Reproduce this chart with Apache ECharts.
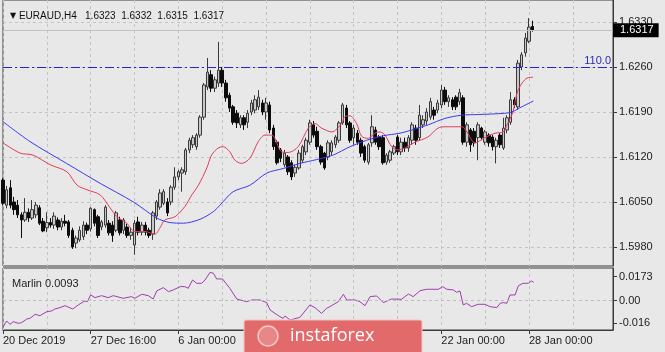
<!DOCTYPE html>
<html>
<head>
  <meta charset="UTF-8">
  <title>EURAUD,H4</title>
  <script src="https://cdn.jsdelivr.net/npm/echarts@6/dist/echarts.min.js"></script>
  <style>
    html, body { margin:0; padding:0; background:#e8e8e8; }
    #chart { width:665px; height:352px; }
  </style>
</head>
<body>
<div id="chart"></div>
<script type="text/javascript">
  // H4 candles, one per slot (slots past the last candle are the empty shift on the right)
  var slotCount = 168;
  var opens = [1.6084,1.6045,1.6072,1.6050,1.6045,1.6030,1.6022,1.6034,1.6025,1.6030,
    1.6041,1.6020,1.6010,1.6018,1.6014,1.6022,1.6011,1.6020,1.6019,1.6006,
    1.5986,1.5991,1.5996,1.6014,1.6008,1.6038,1.6027,1.6011,1.6014,1.6017,
    1.6014,1.6006,1.6022,1.6006,1.6011,1.5998,1.5983,1.6019,1.6003,1.6014,
    1.6006,1.6000,1.6028,1.6042,1.6048,1.6050,1.6050,1.6073,1.6089,1.6095,
    1.6097,1.6131,1.6139,1.6136,1.6154,1.6182,1.6229,1.6248,1.6227,1.6235,
    1.6255,1.6235,1.6216,1.6198,1.6188,1.6170,1.6181,1.6174,1.6190,1.6193,
    1.6198,1.6204,1.6190,1.6201,1.6165,1.6143,1.6131,1.6108,1.6120,1.6111,
    1.6095,1.6103,1.6115,1.6128,1.6143,1.6170,1.6160,1.6136,1.6126,1.6120,
    1.6128,1.6139,1.6146,1.6173,1.6196,1.6173,1.6150,1.6157,1.6146,1.6136,
    1.6112,1.6142,1.6162,1.6151,1.6150,1.6112,1.6115,1.6126,1.6151,1.6128,
    1.6143,1.6134,1.6146,1.6165,1.6150,1.6170,1.6176,1.6182,1.6193,1.6193,
    1.6201,1.6224,1.6206,1.6209,1.6213,1.6206,1.6212,1.6143,1.6162,1.6160,
    1.6150,1.6165,1.6143,1.6154,1.6151,1.6136,1.6154,1.6134,1.6162,1.6174,
    1.6209,1.6198,1.6260,1.6282,1.6300,1.6323];
  var closes = [1.6048,1.6069,1.6045,1.6038,1.6030,1.6022,1.6034,1.6025,1.6038,1.6045,
    1.6017,1.6005,1.6018,1.6014,1.6028,1.6011,1.6020,1.6017,1.5998,1.5980,
    1.5994,1.6006,1.6014,1.6006,1.6040,1.6017,1.5998,1.6019,1.6042,1.6002,
    1.5998,1.6033,1.6002,1.6022,1.5998,1.6003,1.6017,1.6003,1.6014,1.6003,
    1.5998,1.6033,1.6050,1.6064,1.6066,1.6033,1.6073,1.6089,1.6097,1.6100,
    1.6131,1.6146,1.6150,1.6154,1.6182,1.6232,1.6252,1.6227,1.6240,1.6255,
    1.6235,1.6212,1.6196,1.6174,1.6173,1.6181,1.6170,1.6188,1.6204,1.6209,
    1.6213,1.6190,1.6204,1.6162,1.6136,1.6111,1.6118,1.6126,1.6097,1.6089,
    1.6104,1.6126,1.6136,1.6146,1.6173,1.6154,1.6136,1.6112,1.6103,1.6142,
    1.6142,1.6151,1.6173,1.6201,1.6170,1.6146,1.6165,1.6143,1.6126,1.6115,
    1.6139,1.6167,1.6143,1.6136,1.6111,1.6123,1.6128,1.6136,1.6128,1.6143,
    1.6134,1.6150,1.6170,1.6146,1.6185,1.6178,1.6190,1.6206,1.6185,1.6204,
    1.6224,1.6206,1.6212,1.6198,1.6198,1.6220,1.6143,1.6170,1.6139,1.6142,
    1.6170,1.6150,1.6159,1.6142,1.6136,1.6146,1.6139,1.6165,1.6181,1.6209,
    1.6201,1.6266,1.6279,1.6305,1.6322,1.6317];
  var lows = [1.6045,1.6040,1.6040,1.6030,1.6025,1.5994,1.6019,1.6019,1.6022,1.6025,
    1.6014,1.6003,1.6003,1.6010,1.6008,1.6006,1.6006,1.6012,1.5994,1.5977,
    1.5978,1.5988,1.5991,1.6000,1.6004,1.6012,1.5994,1.6006,1.6010,1.5998,
    1.5988,1.6003,1.5998,1.6000,1.5994,1.5991,1.5968,1.5998,1.5998,1.5998,
    1.5994,1.5991,1.6022,1.6038,1.6045,1.6028,1.6045,1.6069,1.6084,1.6066,
    1.6092,1.6126,1.6134,1.6131,1.6150,1.6178,1.6224,1.6221,1.6221,1.6229,
    1.6229,1.6206,1.6190,1.6170,1.6165,1.6165,1.6162,1.6165,1.6185,1.6188,
    1.6193,1.6185,1.6178,1.6157,1.6131,1.6108,1.6112,1.6104,1.6092,1.6084,
    1.6089,1.6100,1.6111,1.6123,1.6139,1.6150,1.6131,1.6108,1.6100,1.6115,
    1.6123,1.6134,1.6142,1.6170,1.6165,1.6142,1.6139,1.6139,1.6120,1.6111,
    1.6108,1.6136,1.6139,1.6131,1.6108,1.6108,1.6111,1.6123,1.6123,1.6123,
    1.6128,1.6128,1.6139,1.6139,1.6146,1.6165,1.6170,1.6178,1.6178,1.6188,
    1.6196,1.6201,1.6198,1.6193,1.6193,1.6201,1.6139,1.6136,1.6128,1.6136,
    1.6115,1.6146,1.6139,1.6136,1.6130,1.6110,1.6134,1.6131,1.6157,1.6170,
    1.6196,1.6193,1.6255,1.6276,1.6297,1.6315];
  var highs = [1.6087,1.6075,1.6084,1.6058,1.6053,1.6034,1.6056,1.6040,1.6053,1.6050,
    1.6045,1.6025,1.6034,1.6025,1.6034,1.6026,1.6025,1.6030,1.6022,1.6010,
    1.5998,1.6012,1.6020,1.6018,1.6042,1.6040,1.6030,1.6022,1.6045,1.6022,
    1.6020,1.6036,1.6027,1.6025,1.6016,1.6010,1.6022,1.6027,1.6019,1.6019,
    1.6010,1.6036,1.6053,1.6070,1.6070,1.6056,1.6076,1.6104,1.6100,1.6104,
    1.6134,1.6150,1.6154,1.6157,1.6185,1.6235,1.6274,1.6255,1.6245,1.6299,
    1.6260,1.6240,1.6220,1.6201,1.6193,1.6185,1.6185,1.6193,1.6209,1.6216,
    1.6224,1.6209,1.6212,1.6206,1.6170,1.6146,1.6134,1.6131,1.6123,1.6115,
    1.6108,1.6131,1.6139,1.6150,1.6178,1.6176,1.6167,1.6139,1.6128,1.6146,
    1.6146,1.6154,1.6176,1.6204,1.6201,1.6176,1.6170,1.6162,1.6150,1.6139,
    1.6142,1.6185,1.6167,1.6154,1.6154,1.6126,1.6131,1.6139,1.6154,1.6150,
    1.6150,1.6154,1.6174,1.6170,1.6201,1.6185,1.6196,1.6212,1.6198,1.6209,
    1.6232,1.6229,1.6216,1.6213,1.6216,1.6226,1.6216,1.6174,1.6165,1.6165,
    1.6174,1.6167,1.6162,1.6157,1.6154,1.6150,1.6157,1.6181,1.6185,1.6221,
    1.6213,1.6271,1.6283,1.6313,1.6336,1.6332];

  // moving averages and Marlin, as [slot, value]
  var redMA = [[0,1.6142],[4.7,1.6126],[8.2,1.6123],[12.9,1.6108],[17.5,1.6097],[20.3,1.6076],[23.0,1.6069],
    [26.6,1.6061],[29.3,1.6041],[31.2,1.6027],[33.9,1.6017],[36.1,1.6004],[38.9,1.6004],[41.6,1.6000],
    [43.0,1.6010],[44.3,1.6022],[47.1,1.6027],[49.8,1.6043],[51.7,1.6061],[53.5,1.6076],[55.8,1.6103],
    [57.1,1.6123],[58.9,1.6134],[60.3,1.6136],[62.1,1.6128],[63.5,1.6115],[65.3,1.6110],[67.6,1.6118],
    [69.9,1.6144],[71.7,1.6154],[73.6,1.6154],[76.3,1.6128],[78.1,1.6127],[80.8,1.6136],[83.6,1.6165],
    [85.4,1.6172],[87.2,1.6165],[90.0,1.6159],[92.7,1.6172],[93.6,1.6183],[95.0,1.6184],[96.8,1.6172],
    [98.2,1.6152],[100.0,1.6149],[101.8,1.6157],[103.2,1.6159],[104.6,1.6154],[106.4,1.6136],[108.2,1.6131],
    [110.0,1.6134],[112.8,1.6143],[116.3,1.6151],[119.1,1.6165],[121.0,1.6167],[125.7,1.6167],[127.0,1.6159],
    [129.2,1.6142],[131.9,1.6150],[134.7,1.6157],[136.9,1.6159],[138.0,1.6170],[139.6,1.6190],[141.0,1.6224],
    [143.5,1.6243],[145.1,1.6244]];
  var blueMA = [[0,1.6175],[7.4,1.6144],[17.4,1.6110],[26.6,1.6079],[35.7,1.6050],[42.1,1.6025],[45.7,1.6018],
    [49.4,1.6017],[53.9,1.6023],[57.6,1.6035],[59.4,1.6045],[63.0,1.6066],[67.6,1.6076],[72.2,1.6095],
    [76.7,1.6102],[81.3,1.6110],[85.9,1.6116],[90.4,1.6123],[95.0,1.6136],[99.6,1.6146],[104.1,1.6153],
    [108.7,1.6157],[111.9,1.6162],[116.4,1.6170],[121.0,1.6180],[125.6,1.6185],[130.1,1.6186],[137.4,1.6188],
    [139.3,1.6190],[142.0,1.6198],[145.2,1.6207]];
  var marlin = [[0.1,-0.0187],[1.0,-0.0146],[1.9,-0.0170],[2.8,-0.0151],[4.2,-0.0163],[5.1,-0.0158],[6.5,-0.0132],
    [7.4,-0.0127],[8.8,-0.0098],[10.1,-0.0108],[12.0,-0.0079],[13.3,-0.0074],[14.2,-0.0060],[15.6,-0.0050],
    [17.0,-0.0036],[19.1,-0.0060],[20.6,-0.0031],[22.4,-0.0002],[23.1,-0.0007],[24.0,0.0041],[25.2,0.0022],
    [27.0,0.0036],[28.8,0.0022],[30.2,0.0036],[32.9,0.0017],[35.2,0.0029],[36.1,0.0017],[38.0,0.0046],
    [39.8,0.0036],[41.1,0.0012],[42.1,0.0070],[43.9,0.0094],[45.3,0.0065],[46.6,0.0077],[48.5,0.0101],
    [49.8,0.0101],[50.7,0.0089],[51.9,0.0149],[53.0,0.0125],[54.4,0.0125],[55.3,0.0149],[56.7,0.0204],
    [57.6,0.0197],[58.5,0.0156],[60.1,0.0156],[62.1,0.0089],[64.0,0.0012],[66.7,-0.0007],[68.1,0.0005],
    [70.4,0.0005],[72.2,-0.0014],[73.1,-0.0067],[75.8,-0.0115],[76.7,-0.0127],[77.2,-0.0110],[78.6,-0.0139],
    [81.3,-0.0120],[84.0,-0.0031],[85.4,-0.0050],[87.2,-0.0091],[88.6,-0.0055],[89.5,-0.0043],[91.8,-0.0007],
    [93.2,0.0046],[94.1,0.0005],[96.4,0.0005],[97.7,-0.0007],[99.1,-0.0036],[100.5,0.0029],[102.3,0.0034],
    [104.1,-0.0014],[106.4,0.0012],[109.1,0.0010],[111.0,0.0048],[112.3,0.0029],[114.2,0.0072],[116.0,0.0082],
    [119.2,0.0082],[120.4,0.0101],[121.5,0.0082],[123.3,0.0077],[124.2,0.0060],[125.1,0.0070],[126.0,-0.0031],
    [126.9,-0.0019],[128.3,-0.0043],[130.1,-0.0026],[132.0,-0.0026],[133.3,-0.0043],[135.2,-0.0050],
    [136.1,-0.0019],[137.0,-0.0014],[137.9,-0.0019],[138.8,0.0041],[140.2,0.0041],[141.1,0.0108],
    [142.4,0.0125],[143.8,0.0125],[144.7,0.0142],[145.3,0.0132]];

  var timeLabels = ['20 Dec 2019','27 Dec 16:00','6 Jan 00:00','10 Jan 00:00','16 Jan 00:00','22 Jan 00:00','28 Jan 00:00'];
  var priceTicks = [1.5980, 1.6050, 1.6120, 1.6190, 1.6260, 1.6330];
  var marlinTicks = [0.0173, 0, -0.016];
  var marlinTickText = ['0.0173', '0.00', '-0.016'];
  var levelPrice = 1.6260, levelName = '110.0';
  var marlinValue = '0.0093';

  var last = opens.length - 1;
  var cats = [], candles = [];
  for (var i = 0; i < slotCount; i++) cats.push(String(i));
  for (var j = 0; j < opens.length; j++) candles.push([opens[j], closes[j], lows[j], highs[j]]);

  var font = 'Liberation Sans';
  var gridLine = { show:true, lineStyle:{ color:'#c4c4c4', type:[3,3], width:1 } };
  var frame = '#3a3a3a';

  var chart = echarts.init(document.getElementById('chart'));
  chart.setOption({
    backgroundColor:'#e8e8e8',
    animation:false,
    textStyle:{ fontFamily:font },
    title:[
      { left:5, top:6,
        text:'{t|▼} EURAUD,H4   ' + [opens[last], highs[last], lows[last], closes[last]].map(function(v){return v.toFixed(4);}).join('  '),
        textStyle:{ fontFamily:font, fontSize:10, fontWeight:'normal', color:'#111',
          rich:{ t:{ fontSize:8, color:'#111', fontFamily:'DejaVu Sans' } } } },
      { left:7, top:273, text:'Marlin ' + marlinValue,
        textStyle:{ fontFamily:font, fontSize:11, fontWeight:'normal', color:'#222' } }
    ],
    grid:[
      { left:3, right:52, top:0, height:266, show:true, borderColor:frame, borderWidth:1, backgroundColor:'transparent' },
      { left:3, right:52, top:268, height:62, show:true, borderColor:frame, borderWidth:1, backgroundColor:'transparent' }
    ],
    xAxis:[
      { type:'category', gridIndex:0, data:cats, boundaryGap:false,
        axisLine:{show:false, onZero:false}, axisTick:{show:false}, axisLabel:{show:false},
        splitLine:{ show:true, interval:function(idx){ return idx % 12 === 0; }, lineStyle:gridLine.lineStyle } },
      { type:'category', gridIndex:1, data:cats, boundaryGap:false,
        axisLine:{ show:true, onZero:false, lineStyle:{color:frame} },
        axisTick:{ show:true, length:4, interval:function(idx){ return idx % 24 === 0; }, lineStyle:{color:frame} },
        axisLabel:{ show:true, align:'left', margin:5, fontSize:11, color:'#222', fontFamily:font,
          interval:function(idx){ return idx % 24 === 0; },
          formatter:function(v, idx){ return timeLabels[idx / 24] || ''; } },
        splitLine:{ show:true, interval:function(idx){ return idx % 12 === 0; }, lineStyle:gridLine.lineStyle } },
      { type:'value', gridIndex:0, min:0, max:slotCount - 1, show:false },
      { type:'value', gridIndex:1, min:0, max:slotCount - 1, show:false }
    ],
    yAxis:[
      { type:'value', gridIndex:0, position:'right', min:1.59504, max:1.63642,
        axisLine:{ show:true, onZero:false, lineStyle:{color:frame} },
        axisTick:{ show:true, length:4, customValues:priceTicks, lineStyle:{color:frame} },
        axisLabel:{ customValues:priceTicks, margin:6, fontSize:11, color:'#222', fontFamily:font,
          formatter:function(v){ return v.toFixed(4); } },
        splitLine:gridLine },
      { type:'value', gridIndex:1, position:'right', min:-0.0211, max:0.0235,
        axisLine:{ show:true, onZero:false, lineStyle:{color:frame} },
        axisTick:{ show:true, length:4, customValues:marlinTicks, lineStyle:{color:frame} },
        axisLabel:{ customValues:marlinTicks, margin:6, fontSize:11, color:'#222', fontFamily:font,
          formatter:function(v){ var k = marlinTicks.indexOf(v); return k >= 0 ? marlinTickText[k] : ''; } },
        splitLine:{ show:false } }
    ],
    series:[
      { type:'candlestick', xAxisIndex:0, yAxisIndex:0, data:candles, barWidth:3, z:3,
        itemStyle:{ color:'#c9c9c9', color0:'#0c0c0c', borderColor:'#3a3a3a', borderColor0:'#0c0c0c', borderWidth:1 } },
      { type:'line', xAxisIndex:2, yAxisIndex:0, data:redMA, showSymbol:false, smooth:0.3, z:4,
        lineStyle:{ color:'#e23c5c', width:1 } },
      { type:'line', xAxisIndex:2, yAxisIndex:0, data:blueMA, showSymbol:false, smooth:0.3, z:4,
        lineStyle:{ color:'#3b3bef', width:1 },
        markLine:{ silent:true, symbol:'none', animation:false, precision:4,
          data:[
            { yAxis:closes[last], lineStyle:{ color:'#c2c2c2', type:'solid', width:1 },
              label:{ show:true, position:'end', distance:0, formatter:closes[last].toFixed(4),
                backgroundColor:'#000', color:'#fff', padding:[2,5,1,7], fontSize:11, fontFamily:font } },
            { yAxis:levelPrice, lineStyle:{ color:'#2424d6', type:[9,3,2,3], width:1 },
              label:{ show:true, position:'insideEndTop', distance:[2,1], formatter:levelName,
                color:'#2a2ab0', fontSize:11, fontFamily:font } }
          ] } },
      { type:'line', xAxisIndex:3, yAxisIndex:1, data:marlin, showSymbol:false, symbol:'none',
        lineStyle:{ color:'#a23cb0', width:1 },
        markLine:{ silent:true, symbol:'none', animation:false, precision:4, label:{ show:false },
          lineStyle:{ color:'#bdbdbd', type:[3,3], width:1 }, data:[{ yAxis:marlinTicks[1] }] } }
    ],
    graphic:[
      { type:'rect', zlevel:1, shape:{ x:244, y:320, width:178, height:34, r:2 },
        style:{ fill:'#e36a6a', stroke:'#f2c4c4', lineWidth:1 } },
      { type:'circle', zlevel:1, shape:{ cx:268, cy:336, r:10 },
        style:{ fill:'rgba(255,255,255,0.2)', stroke:'rgba(255,255,255,0.6)', lineWidth:1.5 } },
      { type:'text', zlevel:1, x:290, y:336,
        style:{ text:'instaforex', fill:'#ffffff', fontSize:18, fontFamily:'Open Sans', verticalAlign:'middle' } }
    ]
  });
</script>
</body>
</html>
